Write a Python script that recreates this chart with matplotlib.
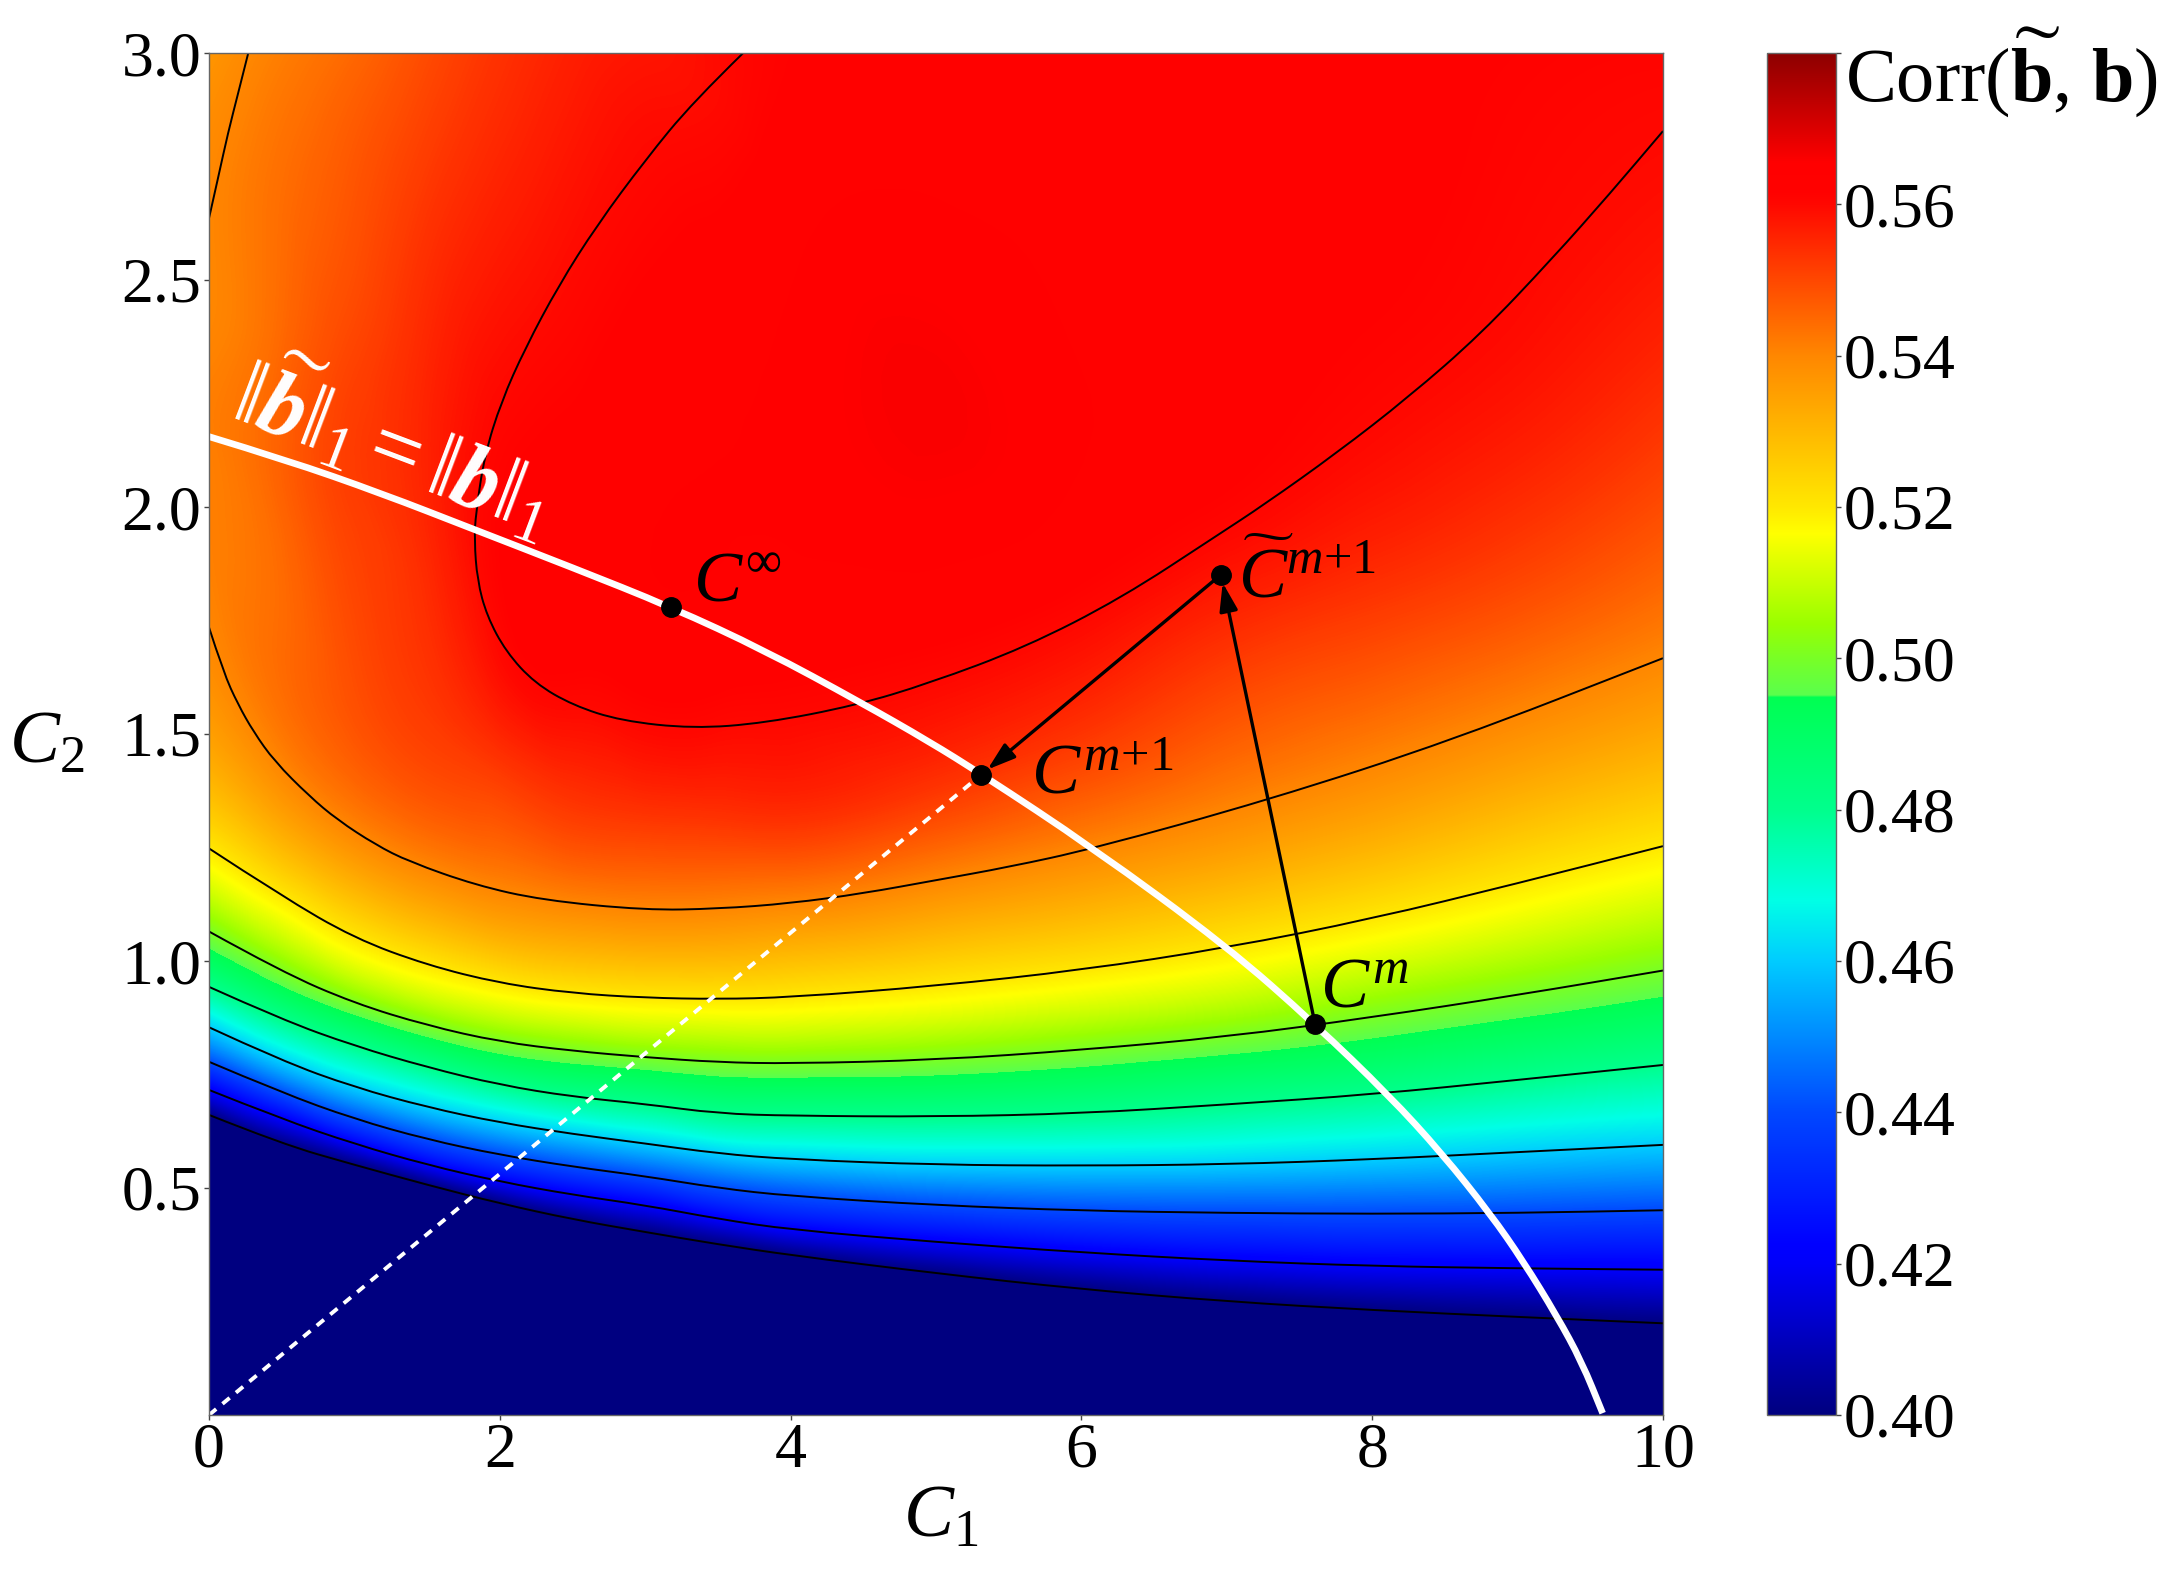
import numpy as np
import matplotlib
matplotlib.use('Agg')
import matplotlib.pyplot as plt
import matplotlib.tri as mtri
from matplotlib.colors import LinearSegmentedColormap
from matplotlib.patches import PathPatch
from matplotlib.path import Path

plt.rcParams['font.family'] = ['Liberation Serif', 'DejaVu Serif']
plt.rcParams['mathtext.fontset'] = 'custom'
plt.rcParams['mathtext.rm'] = 'Liberation Serif'
plt.rcParams['mathtext.it'] = 'Liberation Serif:italic'
plt.rcParams['mathtext.bf'] = 'Liberation Serif:bold'
plt.rcParams['mathtext.bfit'] = 'Liberation Serif:italic:bold'
plt.rcParams['mathtext.fallback'] = 'stix'

# Level curves: C2 at each C1 of the grid
grid_c1 = [0, 0.5, 1, 1.5, 2, 2.5, 3, 3.5, 4, 5, 6, 7, 8, 9, 10]
c2_040 = [0.661, 0.597, 0.551, 0.507, 0.466, 0.431, 0.403, 0.376, 0.352, 0.312, 0.277, 0.25, 0.231, 0.216, 0.202]
c2_042 = [0.716, 0.652, 0.597, 0.551, 0.514, 0.485, 0.462, 0.432, 0.408, 0.381, 0.358, 0.34, 0.328, 0.323, 0.32]
c2_044 = [0.778, 0.71, 0.652, 0.607, 0.573, 0.547, 0.526, 0.5, 0.482, 0.462, 0.45, 0.445, 0.443, 0.445, 0.451]
c2_046 = [0.854, 0.78, 0.722, 0.678, 0.644, 0.619, 0.598, 0.576, 0.563, 0.551, 0.549, 0.552, 0.563, 0.579, 0.595]
c2_048 = [0.943, 0.871, 0.813, 0.766, 0.727, 0.701, 0.685, 0.664, 0.659, 0.657, 0.664, 0.684, 0.706, 0.738, 0.771]
c2_050 = [1.065, 0.976, 0.907, 0.858, 0.822, 0.802, 0.788, 0.777, 0.774, 0.782, 0.804, 0.833, 0.876, 0.925, 0.979]
c2_052 = [1.248, 1.143, 1.05, 0.991, 0.951, 0.929, 0.919, 0.916, 0.92, 0.945, 0.98, 1.029, 1.093, 1.171, 1.253]
c2_054 = [1.735, 1.425, 1.285, 1.205, 1.155, 1.125, 1.112, 1.115, 1.127, 1.178, 1.245, 1.328, 1.429, 1.543, 1.667]

# The 0.54 and 0.56 curves double back, so they have their own C1 lists
c1_054_a = [0, 0.066, 0.13, 0.2, 0.27]
c2_054_a = [2.636, 2.73, 2.823, 2.911, 3.0]
c1_054_b = [0, 0.1, 0.2, 0.306, 0.45, 0.69, 0.883, 1.146, 1.375, 1.834, 2.293, 3, 3.5, 4, 4.5, 5, 5.5, 6.075, 7.29,
            8.55, 10]
c2_054_b = [1.735, 1.635, 1.565, 1.505, 1.44, 1.363, 1.311, 1.256, 1.219, 1.167, 1.134, 1.112, 1.115, 1.127, 1.149,
            1.178, 1.207, 1.247, 1.355, 1.486, 1.667]
c1_056 = [3.674, 3.328, 3.0, 2.669, 2.405, 2.175, 2.01, 1.895, 1.835, 1.825, 1.845, 1.911, 2.043, 2.24, 2.504,
          2.834, 3.328, 3.822, 4.448, 4.955, 5.614, 6.273, 6.932, 7.26, 7.756, 8.25, 8.744, 9.238, 9.634, 10]
c2_056 = [3.0, 2.892, 2.764, 2.621, 2.488, 2.35, 2.232, 2.114, 1.986, 1.927, 1.839, 1.76, 1.681, 1.612, 1.563,
          1.529, 1.512, 1.524, 1.563, 1.612, 1.691, 1.799, 1.937, 2.006, 2.119, 2.242, 2.38, 2.547, 2.69, 2.828]

# Upper part of the field, values estimated from the colours
row_a_c2 = [1.95, 1.7, 1.6, 1.5, 1.45, 1.35, 1.3, 1.3, 1.3, 1.38, 1.5, 1.65, 1.8, 1.9, 2.1]
row_a_z = [0.5412, 0.5445, 0.549, 0.5515, 0.5535, 0.553, 0.552, 0.5525, 0.553, 0.553, 0.553, 0.552, 0.553, 0.552, 0.5515]
row_b_c2 = [2.15, 2.0, 2.0, 1.9, 1.685, 1.563, 1.512, 1.515, 1.53, 1.615, 1.75, 1.935, 2.165, 2.46, 2.828]
row_b_z = [0.5415, 0.5455, 0.5515, 0.555, 0.56, 0.56, 0.56, 0.56, 0.56, 0.56, 0.56, 0.56, 0.56, 0.56, 0.56]
row_c_c2 = [2.35, 2.35, 2.35, 2.3, 1.95, 2.05, 2.1, 2.1, 2.1, 2.2, 2.3, 2.3, 2.4, 2.6, 2.87]
row_c_z = [0.5405, 0.545, 0.5505, 0.5555, 0.5615, 0.5625, 0.5635, 0.564, 0.5645, 0.5662, 0.564, 0.5625, 0.5615, 0.5605,
           0.5602]
row_d_c2 = [2.636, 2.7, 2.7, 2.7, 2.24, 2.47, 2.76, 2.85, 2.6, 2.6, 2.65, 2.65, 2.7, 2.8, 2.93]
row_d_z = [0.54, 0.544, 0.548, 0.5525, 0.56, 0.56, 0.56, 0.56, 0.5635, 0.5645, 0.5635, 0.5625, 0.5622, 0.561, 0.5605]
row_top_z = [0.537, 0.5415, 0.545, 0.5495, 0.5535, 0.5565, 0.558, 0.5597, 0.5615, 0.5625, 0.5625, 0.5625, 0.5622,
             0.5615, 0.561]

# Norm curve and the points on it
norm_c1 = [0, 0.527, 1.186, 1.812, 2.504, 3.176, 3.822, 4.48, 4.955, 5.31, 6.075, 6.998, 7.607, 8.115, 8.48, 8.81,
           9.04, 9.27, 9.44, 9.585]
norm_c2 = [2.155, 2.104, 2.03, 1.952, 1.866, 1.78, 1.684, 1.57, 1.483, 1.412, 1.25, 1.033, 0.861, 0.704, 0.576,
           0.444, 0.338, 0.218, 0.118, 0.004]
c_inf = (3.176, 1.78)
c_m = (7.607, 0.861)
c_m1 = (5.31, 1.41)
c_tilde = (6.96, 1.851)

# Colour stops of the colour bar
cbar_vals = [0.40, 0.42, 0.4225, 0.44, 0.46, 0.468, 0.48, 0.4949, 0.4951, 0.50, 0.5045, 0.5165, 0.52,
             0.54, 0.56, 0.5615, 0.5655, 0.58]
cbar_cols = [(0, 0, 0.5), (0, 0, 0.98), (0, 0, 1), (0, 0.28, 1), (0, 0.8, 1), (0, 1, 0.9), (0, 1, 0.55), (0, 1, 0.32),
             (0.35, 1, 0.3), (0.47, 1, 0.15), (0.6, 1, 0), (1, 1, 0), (1, 0.91, 0),
             (1, 0.53, 0), (1, 0.03, 0), (1, 0.005, 0), (1, 0, 0), (0.55, 0, 0)]
cbar_ticks = [0.40, 0.42, 0.44, 0.46, 0.48, 0.50, 0.52, 0.54, 0.56, 0.58]
cbar_labels = ['0.40', '0.42', '0.44', '0.46', '0.48', '0.50', '0.52', '0.54', '0.56', '']

vmin, vmax = 0.40, 0.58
stops = [(v - vmin) / (vmax - vmin) for v in cbar_vals]
cmap = LinearSegmentedColormap.from_list('corr', list(zip(stops, cbar_cols)), N=2048)


def smooth_line(ax, c1, c2, **kw):
    # quadratic pieces through the midpoints, so the read points do not show as corners
    p = np.column_stack([c1, c2])
    verts = [p[0]]
    codes = [Path.MOVETO]
    for i in range(1, len(p) - 1):
        verts += [p[i], (p[i] + p[i + 1]) / 2]
        codes += [Path.CURVE3, Path.CURVE3]
    verts.append(p[-1])
    codes.append(Path.LINETO)
    ax.add_patch(PathPatch(Path(verts, codes), fill=False, **kw))


# Field: one row of nodes per level curve / estimated row, joined into a triangle mesh
nc = len(grid_c1)
rows_c2 = [[0] * nc, c2_040, c2_042, c2_044, c2_046, c2_048, c2_050, c2_052, c2_054,
           row_a_c2, row_b_c2, row_c_c2, row_d_c2, [3] * nc]
rows_z = [[0.38] * nc, [0.40] * nc, [0.42] * nc, [0.44] * nc, [0.46] * nc, [0.48] * nc, [0.50] * nc, [0.52] * nc,
          [0.54] * nc, row_a_z, row_b_z, row_c_z, row_d_z, row_top_z]
xx = np.tile(grid_c1, len(rows_c2)).astype(float)
yy = np.concatenate(rows_c2).astype(float)
zz = np.concatenate(rows_z).astype(float)
tris = []
for i in range(len(rows_c2) - 1):
    for j in range(nc - 1):
        a = i * nc + j
        tris.append([a, a + 1, a + nc])
        tris.append([a + 1, a + nc + 1, a + nc])
triang = mtri.Triangulation(xx, yy, tris)
fine_tri, fine_z = mtri.UniformTriRefiner(triang).refine_field(zz, subdiv=3)

W, H = 2179, 1586
fig = plt.figure(figsize=(W / 100, H / 100), dpi=100)
ax = fig.add_axes([209 / W, 1 - 1415 / H, (1663 - 209) / W, (1415 - 53) / H])
cax = fig.add_axes([1767 / W, 1 - 1415 / H, (1836 - 1767) / W, (1415 - 53) / H])

levels = np.linspace(vmin, vmax, 721)
ax.tricontourf(fine_tri, fine_z, levels=levels, cmap=cmap, vmin=vmin, vmax=vmax, extend='both', antialiased=False)

for c2 in [c2_040, c2_042, c2_044, c2_046, c2_048, c2_050, c2_052]:
    smooth_line(ax, grid_c1, c2, color='k', lw=1.4)
smooth_line(ax, c1_054_a, c2_054_a, color='k', lw=1.4)
smooth_line(ax, c1_054_b, c2_054_b, color='k', lw=1.4)
smooth_line(ax, c1_056, c2_056, color='k', lw=1.4)

smooth_line(ax, norm_c1, norm_c2, color='w', lw=4.8, capstyle='butt')
ax.plot([0, c_m1[0]], [0, c_m1[1]], color='w', lw=2.8, ls=(0, (2.4, 2.1)))

arrow = dict(arrowstyle='-|>,head_length=1.7,head_width=0.55', color='k', lw=2.4, shrinkA=0, shrinkB=6)
ax.annotate('', xy=c_tilde, xytext=c_m, arrowprops=arrow)
ax.annotate('', xy=c_m1, xytext=c_tilde, arrowprops=arrow)
for p in [c_inf, c_m, c_m1, c_tilde]:
    ax.plot(p[0], p[1], 'o', color='k', ms=14, zorder=5)

lab = 52
ax.text(3.33, 1.795, r'$C^{\infty}$', fontsize=lab, va='baseline')
ax.text(5.65, 1.37, r'$C^{m{+}1}$', fontsize=lab, va='baseline')
ax.text(7.08, 1.80, r'$\widetilde{C}^{m{+}1}$', fontsize=lab, va='baseline')
ax.text(7.64, 0.90, r'$C^{m}$', fontsize=lab, va='baseline')
ax.text(0.13, 2.20, r'$\Vert\widetilde{\mathbfit{b}}\Vert_1 = \Vert\mathbfit{b}\Vert_1$', color='w', fontsize=65,
        rotation=-20.7, rotation_mode='anchor', va='baseline')

ax.set_xlim(0, 10)
ax.set_ylim(0, 3)
ax.set_xticks([0, 2, 4, 6, 8, 10])
ax.set_yticks([0.5, 1.0, 1.5, 2.0, 2.5, 3.0])
ax.tick_params(labelsize=46, length=3.5, width=1, color='#444444', pad=2)
for s in ax.spines.values():
    s.set_color('#666666')
    s.set_linewidth(1)
ax.set_xlabel(r'$C_1$', fontsize=54, labelpad=3, x=0.503)
ax.set_ylabel(r'$C_2$', fontsize=54, rotation=0, labelpad=54, va='center', y=0.492)

cb = fig.colorbar(plt.cm.ScalarMappable(norm=plt.Normalize(vmin, vmax), cmap=cmap), cax=cax)
cb.set_ticks(cbar_ticks)
cb.set_ticklabels(cbar_labels)
cb.ax.tick_params(labelsize=46, length=3.5, width=1, color='#444444', pad=2)
cb.outline.set_edgecolor('#666666')
cb.outline.set_linewidth(1)
fig.text(1845 / W, 1 - 101 / H, r'Corr($\widetilde{\mathbf{b}}$, $\mathbf{b}$)', fontsize=55, va='baseline')

fig.savefig('out.png', dpi=100)
